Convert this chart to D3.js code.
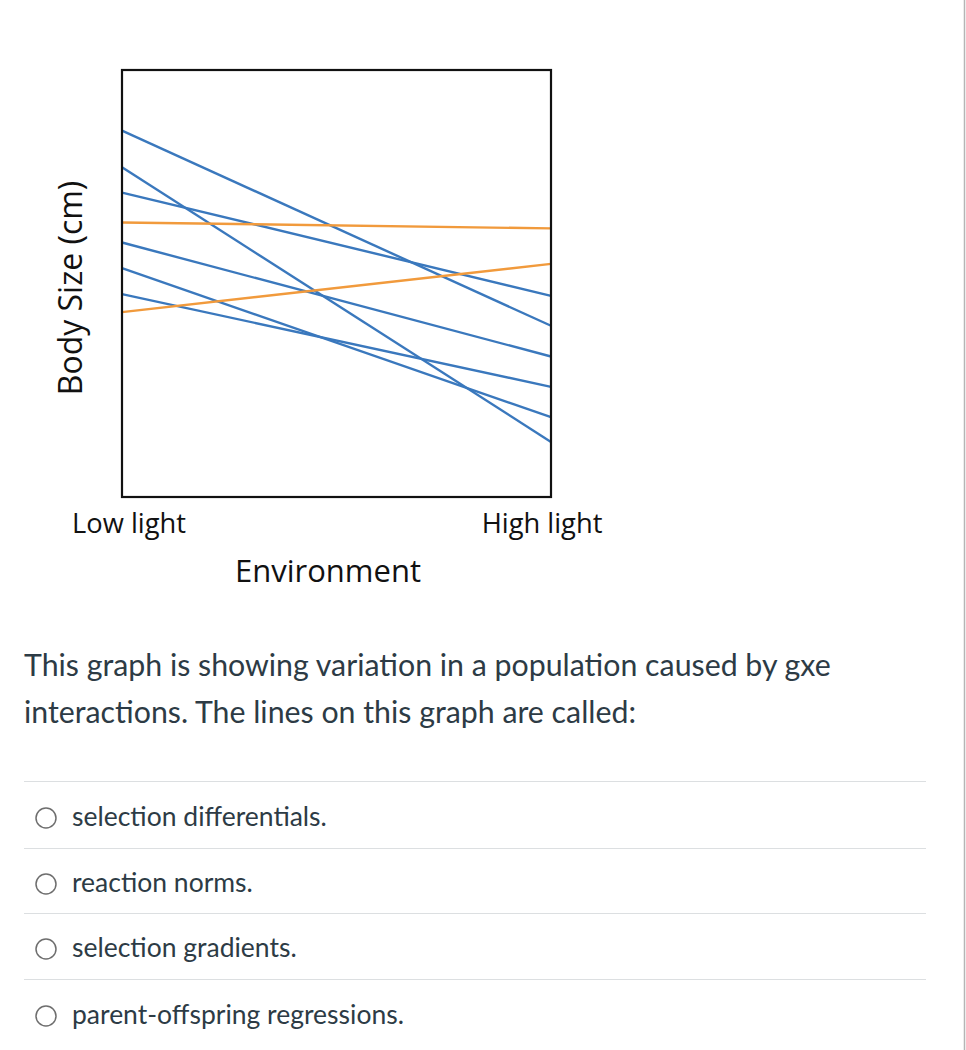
<!DOCTYPE html>
<html>
<head>
<meta charset="utf-8">
<script src="https://cdn.jsdelivr.net/npm/d3@7"></script>
<style>
  body { margin: 0; background: #fff; }
  text { font-family: Lato, "Open Sans", sans-serif; }
  text.chart { font-family: "Open Sans", Lato, sans-serif; }
</style>
</head>
<body>
<script>
// data (body size, arbitrary units 0-100)
var environments = ["Low light", "High light"];
var blueLow  = [85.8, 77.2, 71.3, 59.6, 53.6, 47.5];
var blueHigh = [40.1, 12.9, 47.1, 32.9, 18.7, 25.8];
var orangeLow  = [64.3, 43.3];
var orangeHigh = [62.9, 54.6];
var question = ["This graph is showing variation in a population caused by gxe",
                "interactions. The lines on this graph are called:"];
var answers = ["selection differentials.", "reaction norms.",
               "selection gradients.", "parent-offspring regressions."];

var width = 966, height = 1050;

var svg = d3.select('body').append('svg')
        .attr('width', width)
        .attr('height', height);

// page edge on the right
svg.append('line')
        .attr('x1', 964.5).attr('x2', 964.5)
        .attr('y1', 0).attr('y2', height)
        .attr('stroke', '#b5b5b5')
        .attr('stroke-width', 1.5);

var box = {left: 122, right: 551, top: 70, bottom: 497};

var x = d3.scalePoint()
        .domain(environments)
        .range([box.left, box.right]);

var y = d3.scaleLinear()
        .domain([0, 100])
        .range([box.bottom, box.top]);

var line = d3.line()
        .x(function(d) { return x(d.env); })
        .y(function(d) { return y(d.v); });

function pairs(low, high) {
    return low.map(function(v, i) {
        return [{env: environments[0], v: v}, {env: environments[1], v: high[i]}];
    });
}

var plot = svg.append('g');

plot.selectAll('path.blue')
        .data(pairs(blueLow, blueHigh))
        .enter().append('path')
        .attr('class', 'blue')
        .attr('d', line)
        .attr('fill', 'none')
        .attr('stroke', '#3a78bd')
        .attr('stroke-width', 2.4);

plot.selectAll('path.orange')
        .data(pairs(orangeLow, orangeHigh))
        .enter().append('path')
        .attr('class', 'orange')
        .attr('d', line)
        .attr('fill', 'none')
        .attr('stroke', '#f19a3c')
        .attr('stroke-width', 2.4);

plot.append('rect')
        .attr('x', box.left)
        .attr('y', box.top)
        .attr('width', box.right - box.left)
        .attr('height', box.bottom - box.top)
        .attr('fill', 'none')
        .attr('stroke', '#111')
        .attr('stroke-width', 2.2);

// axis labels
var labelPos = [129, 542];
plot.selectAll('text.env')
        .data(environments)
        .enter().append('text')
        .attr('class', 'env chart')
        .attr('x', function(d, i) { return labelPos[i]; })
        .attr('y', 533)
        .attr('text-anchor', 'middle')
        .attr('font-size', 27.3)
        .attr('fill', '#111')
        .text(function(d) { return d; });

plot.append('text')
        .attr('class', 'chart')
        .attr('x', 328)
        .attr('y', 582)
        .attr('text-anchor', 'middle')
        .attr('font-size', 31)
        .attr('fill', '#111')
        .text('Environment');

plot.append('text')
        .attr('class', 'chart')
        .attr('transform', 'translate(82,288) rotate(-90)')
        .attr('text-anchor', 'middle')
        .attr('font-size', 32)
        .attr('fill', '#111')
        .text('Body Size (cm)');

// question
svg.selectAll('text.q')
        .data(question)
        .enter().append('text')
        .attr('class', 'q')
        .attr('x', 24)
        .attr('y', function(d, i) { return 676 + i * 47; })
        .attr('font-size', 30.3)
        .attr('fill', '#2d3b45')
        .text(function(d) { return d; });

// answers
var sepY = [781, 848, 913, 979];
svg.selectAll('line.sep')
        .data(sepY)
        .enter().append('line')
        .attr('class', 'sep')
        .attr('x1', 24).attr('x2', 926)
        .attr('y1', function(d) { return d + 0.5; })
        .attr('y2', function(d) { return d + 0.5; })
        .attr('stroke', '#dcdfe1')
        .attr('stroke-width', 1.2);

var ansY = [817, 883, 948, 1015];
var ans = svg.selectAll('g.ans')
        .data(answers)
        .enter().append('g')
        .attr('class', 'ans')
        .attr('transform', function(d, i) { return 'translate(0,' + ansY[i] + ')'; });

ans.append('circle')
        .attr('cx', 46)
        .attr('cy', 1)
        .attr('r', 10)
        .attr('fill', '#fff')
        .attr('stroke', '#6e6e6e')
        .attr('stroke-width', 1.5);

ans.append('text')
        .attr('x', 72)
        .attr('y', 9)
        .attr('font-size', 26.5)
        .attr('fill', '#2d3b45')
        .text(function(d) { return d; });
</script>
</body>
</html>
